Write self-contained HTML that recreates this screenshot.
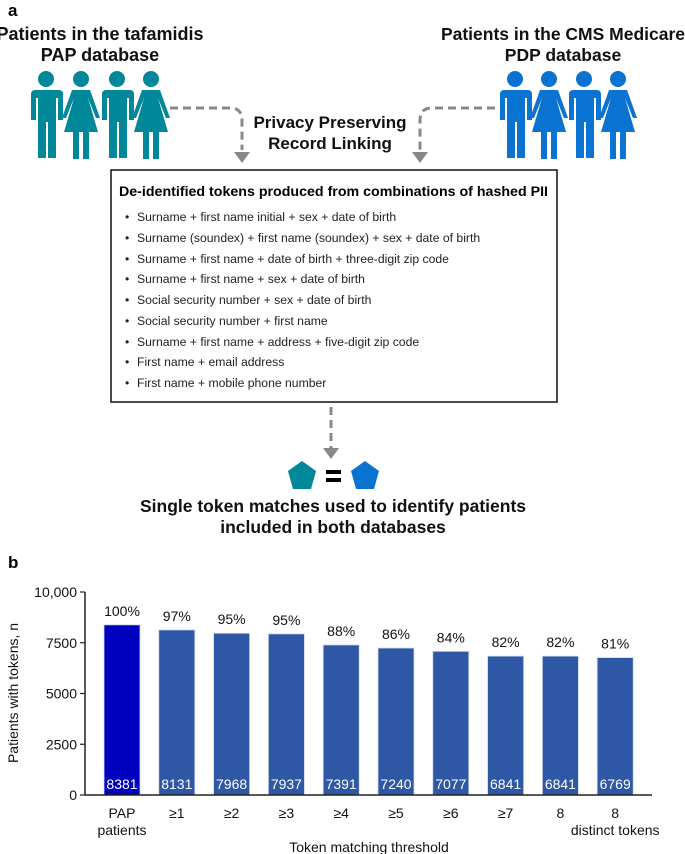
<!DOCTYPE html>
<html><head><meta charset="utf-8"><style>
body{margin:0;background:#fff;width:685px;height:854px;overflow:hidden;font-family:"Liberation Sans",Arial,sans-serif}
svg{display:block}
</style></head><body>
<svg width="685" height="854" viewBox="0 0 685 854">
<defs>
<g id="man"><circle cx="0" cy="-38" r="8"/><path d="M-13,-27 h26 a4,4 0 0 1 4,4 v26 h-5 v-22 h-2 v60 h-8 v-36 h-2 v36 h-8 v-60 h-2 v22 h-5 v-26 a4,4 0 0 1 4,-4z"/></g>
<g id="woman"><circle cx="0" cy="-38" r="8"/><path d="M-9,-27 h18 l10,28 h-4 l-8,-20 l10,34 h-9 v27 h-6 v-27 h-4 v27 h-6 v-27 h-9 l10,-34 l-8,20 h-4z"/></g>
</defs>
<text x="8" y="16" font-size="17" font-weight="bold">a</text>
<g font-size="18" font-weight="bold" text-anchor="middle" fill="#111">
<text x="100" y="40">Patients in the tafamidis</text>
<text x="100" y="61">PAP database</text>
<text x="563" y="40" font-size="17.5">Patients in the CMS Medicare</text>
<text x="563" y="61" font-size="17.5">PDP database</text>
<text x="330" y="128" font-size="17">Privacy Preserving</text>
<text x="330" y="149" font-size="17">Record Linking</text>
</g>
<g fill="#00879a">
<use href="#man" x="46" y="117"/><use href="#woman" x="81" y="117"/><use href="#man" x="117" y="117"/><use href="#woman" x="151" y="117"/>
</g>
<g fill="#0a72d1">
<use href="#man" x="515" y="117"/><use href="#woman" x="549" y="117"/><use href="#man" x="584" y="117"/><use href="#woman" x="618" y="117"/>
</g>
<g stroke="#888" stroke-width="3" fill="none" stroke-dasharray="8,5">
<path d="M170,108 H230 Q242,108 242,120 V150"/>
<path d="M495,108 H432 Q420,108 420,120 V150"/>
<path d="M331,407 V455"/>
</g>
<g fill="#888">
<path d="M234,152 h16 l-8,11z"/><path d="M412,152 h16 l-8,11z"/><path d="M323,448 h16 l-8,11z"/>
</g>
<rect x="111" y="170" width="446" height="232" fill="none" stroke="#111" stroke-width="1.5"/>
<text x="119" y="196" font-size="13.5" font-weight="bold" textLength="429" lengthAdjust="spacingAndGlyphs">De-identified tokens produced from combinations of hashed PII</text>
<g font-size="12.2" fill="#222">
<text x="125" y="221">•</text><text x="137" y="221">Surname + first name initial + sex + date of birth</text>
<text x="125" y="242">•</text><text x="137" y="242">Surname (soundex) + first name (soundex) + sex + date of birth</text>
<text x="125" y="263">•</text><text x="137" y="263">Surname + first name + date of birth + three-digit zip code</text>
<text x="125" y="283">•</text><text x="137" y="283">Surname + first name + sex + date of birth</text>
<text x="125" y="304">•</text><text x="137" y="304">Social security number + sex + date of birth</text>
<text x="125" y="325">•</text><text x="137" y="325">Social security number + first name</text>
<text x="125" y="346">•</text><text x="137" y="346">Surname + first name + address + five-digit zip code</text>
<text x="125" y="366">•</text><text x="137" y="366">First name + email address</text>
<text x="125" y="387">•</text><text x="137" y="387">First name + mobile phone number</text>
</g>
<polygon points="302,461 316,471 311,489 293,489 288,471" fill="#00879a"/>
<rect x="326" y="470" width="15" height="4" fill="#000"/><rect x="326" y="478" width="15" height="4" fill="#000"/>
<polygon points="365,461 379,471 374,489 356,489 351,471" fill="#0a72d1"/>
<g font-size="17.5" font-weight="bold" text-anchor="middle" fill="#111">
<text x="333" y="512">Single token matches used to identify patients</text>
<text x="333" y="533">included in both databases</text>
</g>
<text x="8" y="568" font-size="17" font-weight="bold">b</text>
<g id="chart"></g>
</svg>
<script>
const categories=["PAP|patients","≥1","≥2","≥3","≥4","≥5","≥6","≥7","8","8|distinct tokens"];
const values=[8381,8131,7968,7937,7391,7240,7077,6841,6841,6769];
const percents=["100%","97%","95%","95%","88%","86%","84%","82%","82%","81%"];
const yTicks=[0,2500,5000,7500,10000];
const yTickLabels=["0","2500","5000","7500","10,000"];
const NS="http://www.w3.org/2000/svg";
const g=document.getElementById('chart');
const y0=795,yTop=592,xAxis=85,x0=122,step=54.8,bw=36;
const y=v=>y0-(v/10000)*(y0-yTop);
const x=i=>x0+i*step;
function mk(t,a,txt){const e=document.createElementNS(NS,t);for(const k in a)e.setAttribute(k,a[k]);if(txt!==undefined)e.textContent=txt;g.appendChild(e);return e;}
values.forEach((v,i)=>{
 const r=mk('rect',{x:x(i)-bw/2,y:y(v),width:bw,height:y0-y(v),fill:i==0?'#0000c0':'#2e58a6',stroke:'#cfd8ee','stroke-width':0.8});
 
 
 const t=mk('text',{x:x(i),y:y(v)-9,'font-size':14,'text-anchor':'middle',fill:'#111'},percents[i]);
 
 
 const n=mk('text',{x:x(i),y:y0-6,'font-size':14,'text-anchor':'middle',fill:'#fff'},String(v));
 
 
 const parts=categories[i].split('|');
 parts.forEach((p,j)=>{
  const c=mk('text',{x:x(i),y:y0+23+j*17,'font-size':14,'text-anchor':'middle',fill:'#111'},p);
  
  
 });
});
yTicks.forEach((t,i)=>{
 mk('line',{x1:xAxis-5,x2:xAxis,y1:y(t),y2:y(t),stroke:'#222','stroke-width':1.2});
 const l=mk('text',{x:xAxis-8,y:y(t)+5,'font-size':14,'text-anchor':'end',fill:'#111'},yTickLabels[i]);
 
 
});
const ya=mk('line',{x1:xAxis,x2:xAxis,y1:yTop,y2:y0,stroke:'#222','stroke-width':1.5});


const xa=mk('line',{x1:xAxis,x2:652,y1:y0,y2:y0,stroke:'#222','stroke-width':1.5});


const yt=mk('text',{x:0,y:0,'font-size':14,'text-anchor':'middle',fill:'#111',transform:'translate(18,693) rotate(-90)'},'Patients with tokens, n');


const xt=mk('text',{x:369,y:852,'font-size':14,'text-anchor':'middle',fill:'#111'},'Token matching threshold');


</script>
</body></html>
